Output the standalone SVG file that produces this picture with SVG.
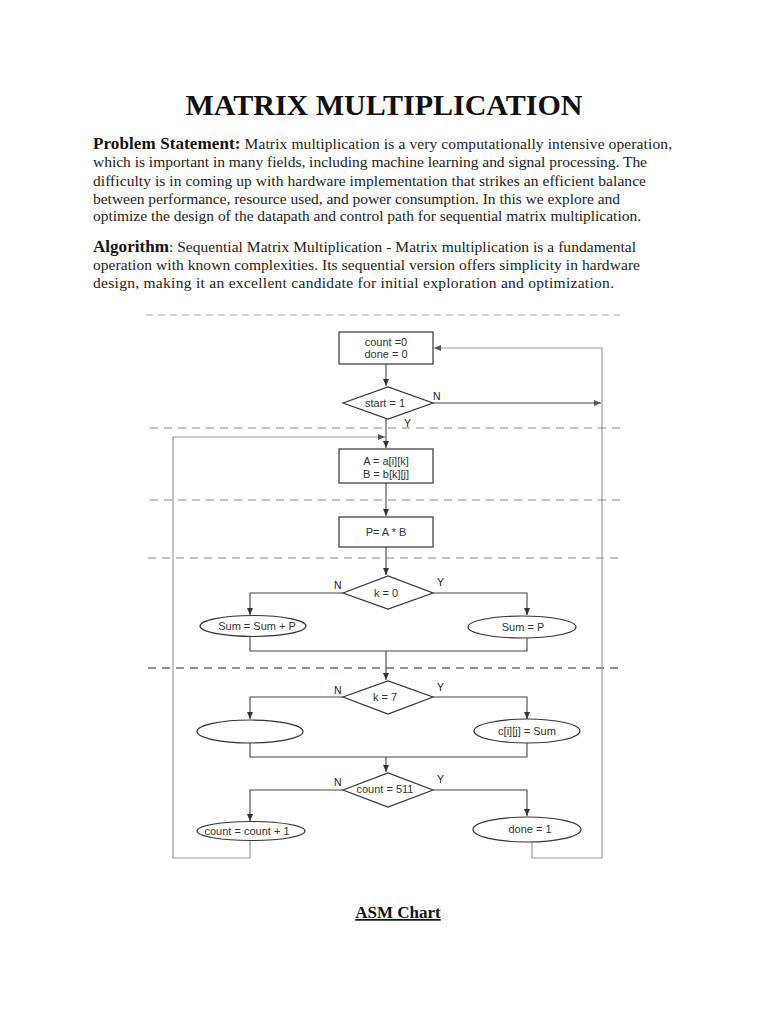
<svg xmlns="http://www.w3.org/2000/svg" width="768" height="1024" viewBox="0 0 768 1024">
<defs>
<marker id="ah" markerWidth="8" markerHeight="6" refX="7" refY="3" orient="auto" markerUnits="userSpaceOnUse">
<path d="M0,0 L7,3 L0,6 Z" fill="#333"/>
</marker>
<marker id="ahg" markerWidth="8" markerHeight="6" refX="7" refY="3" orient="auto" markerUnits="userSpaceOnUse">
<path d="M0,0 L7,3 L0,6 Z" fill="#555"/>
</marker>
</defs>
<style>
.body{font-family:"Liberation Serif","Times New Roman",serif;font-size:15.5px;fill:#222}
.bold{font-weight:bold;font-size:17px;fill:#111}
.title{font-family:"Liberation Serif","Times New Roman",serif;font-size:30px;font-weight:bold;fill:#111}
.fc{font-family:"Liberation Sans",Arial,sans-serif;font-size:11px;fill:#333;text-anchor:middle;dominant-baseline:central}
.lbl{font-family:"Liberation Sans",Arial,sans-serif;font-size:10.5px;fill:#222}
.shape{fill:#fff;stroke:#333;stroke-width:1.2}
.conn{fill:none;stroke:#444;stroke-width:1.1}
.loop{fill:none;stroke:#999;stroke-width:1.2}
.dash{stroke:#888;stroke-width:1;stroke-dasharray:8 6}
</style>
<rect width="768" height="1024" fill="#fff"/>

<g id="header">
<text class="title" x="384" y="115" text-anchor="middle">MATRIX MULTIPLICATION</text>
<text class="body" x="93" y="149" textLength="579" lengthAdjust="spacing"><tspan class="bold">Problem Statement:</tspan> Matrix multiplication is a very computationally intensive operation,</text>
<text class="body" x="93" y="167" textLength="554" lengthAdjust="spacing">which is important in many fields, including machine learning and signal processing. The</text>
<text class="body" x="93" y="186" textLength="553" lengthAdjust="spacing">difficulty is in coming up with hardware implementation that strikes an efficient balance</text>
<text class="body" x="93" y="204" textLength="527" lengthAdjust="spacing">between performance, resource used, and power consumption. In this we explore and</text>
<text class="body" x="93" y="221" textLength="548" lengthAdjust="spacing">optimize the design of the datapath and control path for sequential matrix multiplication.</text>
<text class="body" x="93" y="252" textLength="543" lengthAdjust="spacing"><tspan class="bold">Algorithm</tspan>: Sequential Matrix Multiplication - Matrix multiplication is a fundamental</text>
<text class="body" x="93" y="270" textLength="547" lengthAdjust="spacing">operation with known complexities. Its sequential version offers simplicity in hardware</text>
<text class="body" x="93" y="288" textLength="521" lengthAdjust="spacing">design, making it an excellent candidate for initial exploration and optimization.</text>
</g>

<g id="dashes">
<line class="dash" x1="146" y1="315" x2="620" y2="315" style="stroke:#aaa;stroke-dasharray:7 5"/>
<line class="dash" x1="150" y1="428" x2="620" y2="428"/>
<line class="dash" x1="150" y1="500" x2="620" y2="500"/>
<line class="dash" x1="148" y1="558" x2="620" y2="558"/>
<line class="dash" x1="148" y1="668" x2="620" y2="668" style="stroke:#222"/>
</g>

<g id="connectors">
<path class="conn" d="M386,364 V386" marker-end="url(#ah)"/>
<path class="conn" d="M386,419 V448" marker-end="url(#ah)"/>
<path class="conn" d="M433,403 H601" marker-end="url(#ahg)"/>
<path class="conn" d="M386,483 V516" marker-end="url(#ah)"/>
<path class="conn" d="M386,547 V575" marker-end="url(#ah)"/>
<path class="conn" d="M343,593 H250 V615" marker-end="url(#ah)"/>
<path class="conn" d="M433,593 H527 V615" marker-end="url(#ah)"/>
<path class="conn" d="M250,637 V651 H527 V637"/>
<path class="conn" d="M386,651 V680" marker-end="url(#ah)"/>
<path class="conn" d="M343,697 H250 V719" marker-end="url(#ah)"/>
<path class="conn" d="M433,697 H527 V719" marker-end="url(#ah)"/>
<path class="conn" d="M250,743 V757 H527 V743"/>
<path class="conn" d="M386,757 V772" marker-end="url(#ah)"/>
<path class="conn" d="M343,790 H250 V821" marker-end="url(#ah)"/>
<path class="conn" d="M433,790 H527 V816" marker-end="url(#ah)"/>
<path class="loop" d="M250,840 V858 H173 V437 H385" marker-end="url(#ahg)"/>
<path class="loop" d="M532,842 V858 H602 V348 H434" marker-end="url(#ahg)"/>
</g>

<g id="init">
<rect class="shape" x="339" y="332" width="94" height="32"/>
<text class="fc" x="386" y="342">count =0</text>
<text class="fc" x="386" y="354">done = 0</text>
</g>
<g id="start">
<polygon class="shape" points="343,403 388,387 433,403 388,419"/>
<text class="fc" x="385" y="403">start = 1</text>
<text class="lbl" x="433" y="400">N</text>
<text class="lbl" x="404" y="427">Y</text>
</g>
<g id="load">
<rect class="shape" x="339" y="449" width="94" height="34"/>
<text class="fc" x="386" y="461">A = a[i][k]</text>
<text class="fc" x="386" y="474">B = b[k][j]</text>
</g>
<g id="mult">
<rect class="shape" x="339" y="517" width="94" height="30"/>
<text class="fc" x="386" y="532">P= A * B</text>
</g>
<g id="k0">
<polygon class="shape" points="343,593 388,576 433,593 388,609"/>
<text class="fc" x="386" y="593">k = 0</text>
<text class="lbl" x="334" y="589">N</text>
<text class="lbl" x="437" y="586">Y</text>
</g>
<g id="sumadd">
<ellipse class="shape" cx="253" cy="626" rx="53" ry="10.5"/>
<text class="fc" x="257" y="626">Sum = Sum + P</text>
</g>
<g id="sumset">
<ellipse class="shape" cx="522" cy="627" rx="54" ry="11"/>
<text class="fc" x="523" y="627">Sum = P</text>
</g>
<g id="k7">
<polygon class="shape" points="343,697 388,681 433,697 388,714"/>
<text class="fc" x="385" y="697">k = 7</text>
<text class="lbl" x="334" y="694">N</text>
<text class="lbl" x="437" y="691">Y</text>
</g>
<g id="empty">
<ellipse class="shape" cx="250" cy="731.5" rx="53" ry="11.5"/>
</g>
<g id="store">
<ellipse class="shape" cx="527" cy="731" rx="53" ry="12"/>
<text class="fc" x="527" y="731">c[i][j] = Sum</text>
</g>
<g id="c511">
<polygon class="shape" points="343,790 388,773 433,790 388,807"/>
<text class="fc" x="385" y="789">count = 511</text>
<text class="lbl" x="334" y="786">N</text>
<text class="lbl" x="437" y="783">Y</text>
</g>
<g id="inc">
<ellipse class="shape" cx="251" cy="831" rx="54" ry="9.5"/>
<text class="fc" x="247" y="831">count = count + 1</text>
</g>
<g id="done">
<ellipse class="shape" cx="527" cy="829.5" rx="54" ry="12.5"/>
<text class="fc" x="530" y="829">done = 1</text>
</g>

<g id="caption">
<text x="398" y="918" text-anchor="middle" style="font-family:'Liberation Serif','Times New Roman',serif;font-size:17px;font-weight:bold;fill:#111;text-decoration:underline">ASM Chart</text>
</g>
</svg>
